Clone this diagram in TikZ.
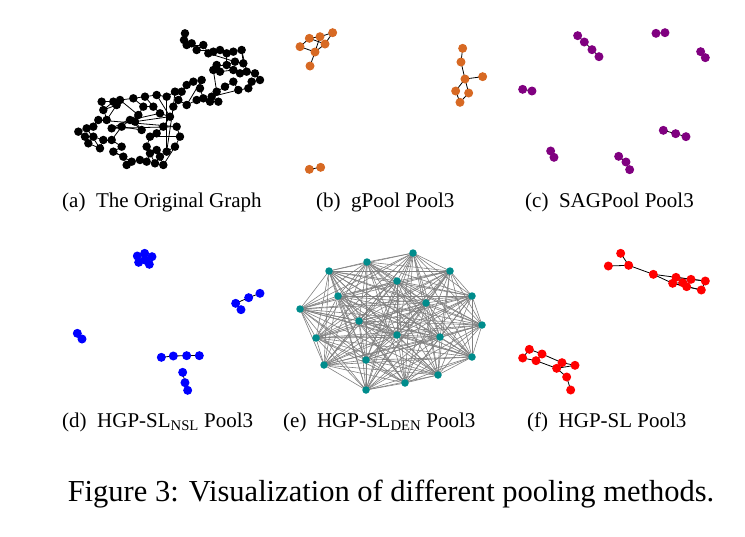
\documentclass[tikz,border=0pt]{standalone}
\usepackage{fontspec}
\setmainfont{Liberation Serif}
\definecolor{og}{RGB}{215,105,35}
\definecolor{pu}{RGB}{128,0,128}
\definecolor{tl}{RGB}{0,140,140}
\begin{document}
\begin{tikzpicture}[x=1pt,y=-1pt,
  vtx/.style={circle,inner sep=0pt,minimum size=#1},
  bk/.style={vtx=8.5pt,fill=black},
  og/.style={vtx=9pt,fill=og},
  pu/.style={vtx=9pt,fill=pu},
  bl/.style={vtx=9pt,fill=blue},
  tl/.style={vtx=7.5pt,fill=tl},
  rd/.style={vtx=9pt,fill=red},
  ed/.style={draw=black,line width=0.8pt},
  ge/.style={draw=gray,line width=0.6pt},
  sub/.style={anchor=base west,font=\fontsize{21}{24}\selectfont,inner sep=0pt},
  figcap/.style={anchor=base,font=\fontsize{30.5}{34}\selectfont,inner sep=0pt}]
\useasboundingbox (0,0) rectangle (745,536);
% ---------- (a)
\begin{scope}[shift={(60,20)},scale=1/3]
\foreach \x/\y [count=\i] in {375/40,372/60,380/75,395/70,410/90,430/75,445/100,460/95,480/90,500/100,520/95,545/90,550/130,525/125,500/135,470/135,460/150,480/155,520/150,540/160,560/155,585/160,600/180,575/185,565/205,535/210,520/185,495/200,470/215,455/230,475/245,450/245,430/235,420/205,425/180,400/185,380/195,365/215,345/215,320/230,290/225,255/230,220/235,180/240,160/245,125/245,130/270,170/255,140/300,115/300,100/320,80/325,55/335,75/350,100/350,85/370,120/385,130/360,155/360,185/380,160/395,190/410,200/435,215/425,240/420,260/425,270/400,290/390,300/410,310/435,285/430,260/380,270/350,290/340,310/320,330/290,300/280,280/260,250/260,235/285,225/305,245/330,210/300,185/320,155/325,350/320,360/350,345/380,320/395,340/260,355/240,380/255,410/240,440/215}
  \coordinate (a\i) at (\x,\y);
\foreach \i [evaluate=\i as \j using int(\i+1)] in {1,...,92} \draw[ed] (a\i) -- (a\j);
\foreach \p/\q in {3/6,5/9,7/14,10/15,12/21,17/29,26/30,35/92,37/91,40/89,41/76,42/78,43/79,44/48,45/47,46/49,50/86,52/57,55/58,59/84,61/64,67/72,70/88,73/87,76/81,77/83,80/85,82/84,39/90,44/80}
  \draw[ed] (a\p) -- (a\q);
\foreach \i in {1,...,93} \node[bk] (na\i) at (a\i) {};
\end{scope}
\node[sub] (la) at (62,207) {(a)\ \ The Original Graph};
% ---------- (b)
\begin{scope}[shift={(280,20)},scale=1/3]
\foreach \n/\x/\y in {b1/60/80,b2/88/55,b3/120/50,b4/158/38,b5/135/72,b6/105/96,b7/90/138,
  c1/548/85,c2/543/126,c3/555/177,c4/608/170,c5/527/213,c6/566/219,c7/540/247,d1/88/448,d2/122/442}
  \coordinate (\n) at (\x,\y);
\foreach \p/\q in {b1/b6,b2/b3,b3/b4,b4/b5,b2/b5,b3/b6,b6/b5,b6/b7,b2/b1,c1/c2,c2/c3,c3/c4,c3/c5,c3/c6,c5/c7,c6/c7,d1/d2}
  \draw[ed] (\p) -- (\q);
\foreach \n in {b1,b2,b3,b4,b5,b6,b7,c1,c2,c3,c4,c5,c6,c7,d1,d2} \node[og] (n\n) at (\n) {};
% ---------- (c)
\foreach \n/\x/\y in {p1/893/47,p2/913/66,p3/936/89,p4/957/110,p5/1128/40,p6/1155/38,p7/1262/95,p8/1276/113,p9/728/208,p10/756/213,p11/1150/331,p12/1187/341,p13/1218/350,p14/812/393,p15/822/412,p16/1016/409,p17/1038/426,p18/1049/449}
  \coordinate (\n) at (\x,\y);
\foreach \p/\q in {p1/p2,p2/p3,p3/p4,p5/p6,p7/p8,p9/p10,p11/p12,p12/p13,p14/p15,p16/p17,p17/p18}
  \draw[ed] (\p) -- (\q);
\foreach \i in {1,...,18} \node[pu] (np\i) at (p\i) {};
\end{scope}
\node[sub] (lb) at (316,207) {(b)\ \ gPool Pool3};
\node[sub] (lc) at (525,207) {(c)\ \ SAGPool Pool3};
% ---------- (d)
\begin{scope}[shift={(60,240)},scale=1/3]
\foreach \n/\x/\y in {q1/232/48,q2/254/40,q3/276/50,q4/236/67,q5/268/73,q6/255/60,q7/527/190,q8/566/173,q9/600/160,q10/543/209,q11/52/280,q12/66/297,q13/304/352,q14/340/348,q15/380/347,q16/418/347,q17/368/397,q18/375/428,q19/383/451}
  \coordinate (\n) at (\x,\y);
\foreach \p/\q in {q1/q6,q2/q6,q3/q6,q4/q6,q5/q6,q7/q8,q8/q9,q7/q10,q11/q12,q13/q14,q14/q15,q15/q16,q17/q18,q18/q19}
  \draw[ed] (\p) -- (\q);
\foreach \i in {1,...,19} \node[bl] (nq\i) at (q\i) {};
\end{scope}
\node[sub] (ld) at (62,427) {(d)\ \ HGP-SL$_{\mathrm{NSL}}$ Pool3};
% ---------- (e)
\foreach \x/\y [count=\i] in {329/271,367/262,413/253,450/271,397/281,338/296,472/296,426/303,300/309,359/321,482/325,397/335,440/337,316/338,472/357,366/360,324/365,438/375,405/383,366/390}
  \coordinate (e\i) at (\x,\y);
\foreach \i in {1,...,20}{\foreach \j in {\i,...,20}{\ifnum\i<\j \draw[ge] (e\i) -- (e\j);\fi}}
\foreach \i in {1,...,20} \node[tl] (ne\i) at (e\i) {};
\node[sub] (le) at (283,427) {(e)\ \ HGP-SL$_{\mathrm{DEN}}$ Pool3};
% ---------- (f)
\begin{scope}[shift={(500,240)},scale=1/3]
\foreach \n/\x/\y in {r1/362/40,r2/325/78,r3/386/76,r4/460/103,r5/528/112,r6/518/130,r7/573/118,r8/560/140,r9/616/123,r10/604/150,r11/548/128,
  s1/88/328,s2/126/342,s3/68/354,s4/108/362,s5/186/368,s6/170/385,s7/225/376,s8/200/411,s9/212/450}
  \coordinate (\n) at (\x,\y);
\foreach \p/\q in {r1/r3,r2/r3,r3/r4,r4/r5,r4/r6,r5/r7,r6/r8,r7/r9,r8/r10,r5/r11,r6/r11,r7/r8,r9/r10,r5/r9,r6/r10,r11/r7,r11/r8,r5/r6,
  s1/s2,s3/s4,s1/s3,s2/s4,s2/s5,s4/s6,s5/s7,s6/s7,s5/s6,s6/s8,s8/s9}
  \draw[ed] (\p) -- (\q);
\foreach \n in {r1,r2,r3,r4,r5,r6,r7,r8,r9,r10,r11,s1,s2,s3,s4,s5,s6,s7,s8,s9} \node[rd] (n\n) at (\n) {};
\end{scope}
\node[sub] (lf) at (527,427) {(f)\ \ HGP-SL Pool3};
% ---------- caption
\node[figcap] (cp) at (391,501) {Figure 3: Visualization of different pooling methods.};
\end{tikzpicture}
\end{document}
